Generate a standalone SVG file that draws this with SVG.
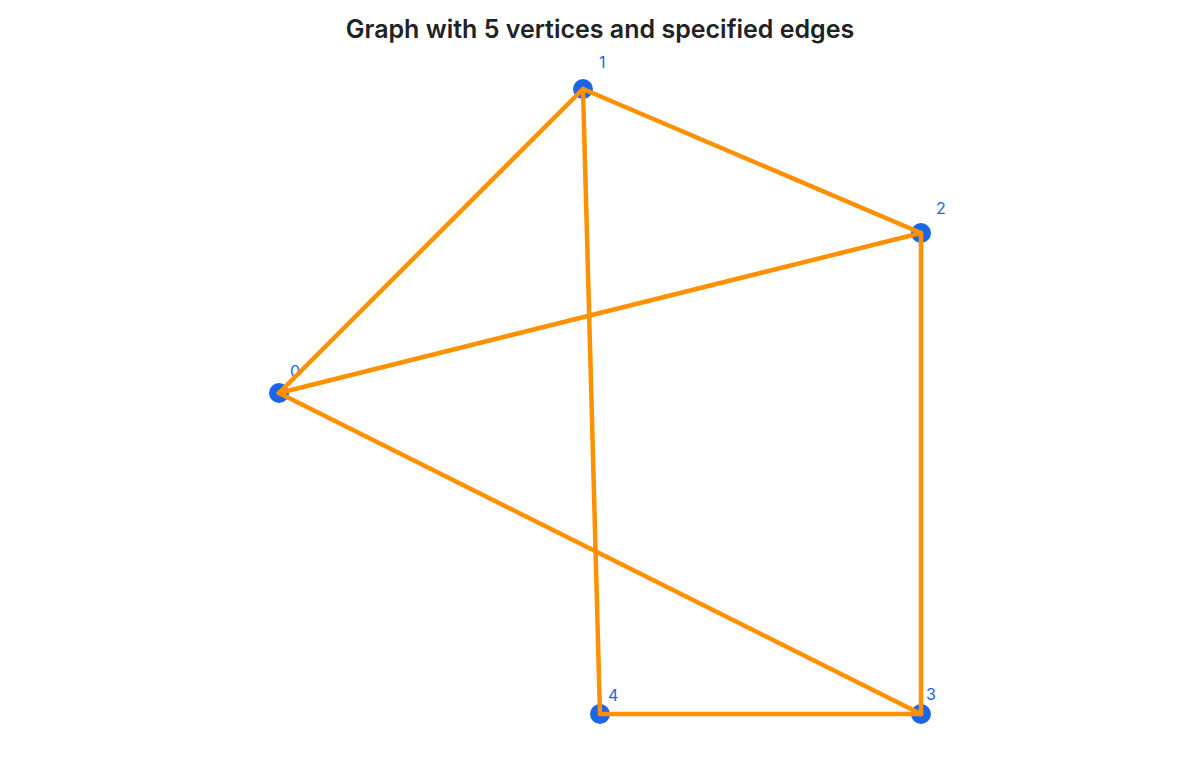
<svg xmlns="http://www.w3.org/2000/svg" width="1200" height="763" viewBox="0 0 1200 763">
<style>
.n{fill:#1a66e6}
.l{font-family:Inter,"Liberation Sans",sans-serif;font-size:16px;fill:#1a66e6}
.e{stroke:#ff9000;stroke-width:4.5;fill:none;stroke-linecap:round}
</style>
<rect width="1200" height="763" fill="#fff"/>
<text x="600" y="38" text-anchor="middle" font-family="Inter,'Liberation Sans',sans-serif" font-size="25" font-weight="600" fill="#222">Graph with 5 vertices and specified edges</text>
<g id="node0"><circle class="n" cx="279" cy="393" r="10"/><text class="l" x="290" y="377">0</text></g>
<g id="node1"><circle class="n" cx="583" cy="89" r="10"/><text class="l" x="599" y="68">1</text></g>
<g id="node2"><circle class="n" cx="921" cy="233" r="10"/><text class="l" x="936" y="214">2</text></g>
<g id="node3"><circle class="n" cx="921" cy="714" r="10"/><text class="l" x="926" y="700">3</text></g>
<g id="node4"><circle class="n" cx="600" cy="714" r="10"/><text class="l" x="608" y="701">4</text></g>
<g id="edges">
<line class="e" x1="279" y1="393" x2="583" y2="89"/>
<line class="e" x1="583" y1="89" x2="921" y2="233"/>
<line class="e" x1="279" y1="393" x2="921" y2="233"/>
<line class="e" x1="279" y1="393" x2="921" y2="714"/>
<line class="e" x1="583" y1="89" x2="600" y2="714"/>
<line class="e" x1="921" y1="233" x2="921" y2="714"/>
<line class="e" x1="600" y1="714" x2="921" y2="714"/>
</g>
</svg>
